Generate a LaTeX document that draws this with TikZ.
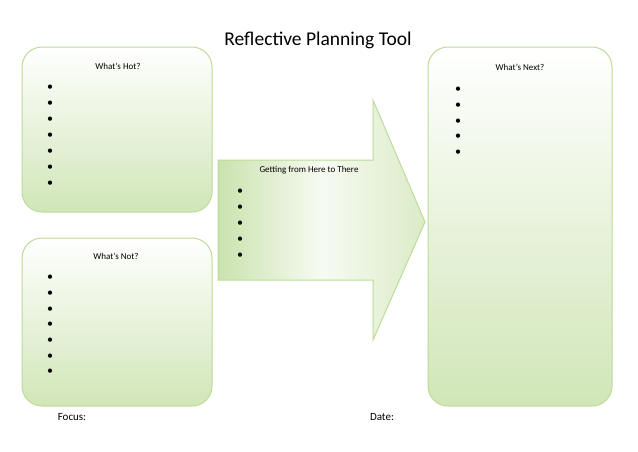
\documentclass[tikz,border=0pt]{standalone}
\usepackage{fontspec}
\setmainfont{Carlito}
\begin{document}
\begin{tikzpicture}[x=1pt,y=-1pt,
  box/.style={draw=green!30!olive!40, line width=1pt, rounded corners=20pt, top color=white, bottom color=green!30!olive!28},
  lbl/.style={font=\fontsize{9}{10}\selectfont, inner sep=0pt},
  bul/.style={font=\fontsize{12}{12}\selectfont, inner sep=0pt}]
\useasboundingbox (0,0) rectangle (638,451);
\node[font=\fontsize{19.5}{22}\selectfont] (title) at (318,40) {Reflective Planning Tool};
\path[box] (22,47) rectangle (212,212);
\path[box] (22,238) rectangle (212,406);
\path[box] (428,47) rectangle (612,406);
\path[draw=green!30!olive!40, line width=1pt, shading angle=60, left color=green!30!olive!32, right color=green!30!olive!22, middle color=green!30!olive!5]
  (218,160) -- (373,160) -- (373,100) -- (425,222) -- (373,340) -- (373,280) -- (218,280) -- cycle;
\node[lbl] (hot) at (118,66) {What’s Hot?};
\node[lbl] (not) at (116,256) {What’s Not?};
\node[lbl] (next) at (520,67) {What’s Next?};
\node[lbl] (get) at (309,170) {Getting from Here to There};
\foreach \i in {0,...,6} {\node[bul] (h\i) at (50,{88+16*\i}) {•};}
\foreach \i in {0,...,6} {\node[bul] (n\i) at (50,{278+15.7*\i}) {•};}
\foreach \i in {0,...,4} {\node[bul] (x\i) at (458,{90+15.7*\i}) {•};}
\foreach \i in {0,...,4} {\node[bul] (g\i) at (240,{192+16*\i}) {•};}
\node[font=\fontsize{11}{12}\selectfont, inner sep=0pt] (focus) at (72,417) {Focus:};
\node[font=\fontsize{11}{12}\selectfont, inner sep=0pt] (date) at (382,417) {Date:};
\end{tikzpicture}
\end{document}
